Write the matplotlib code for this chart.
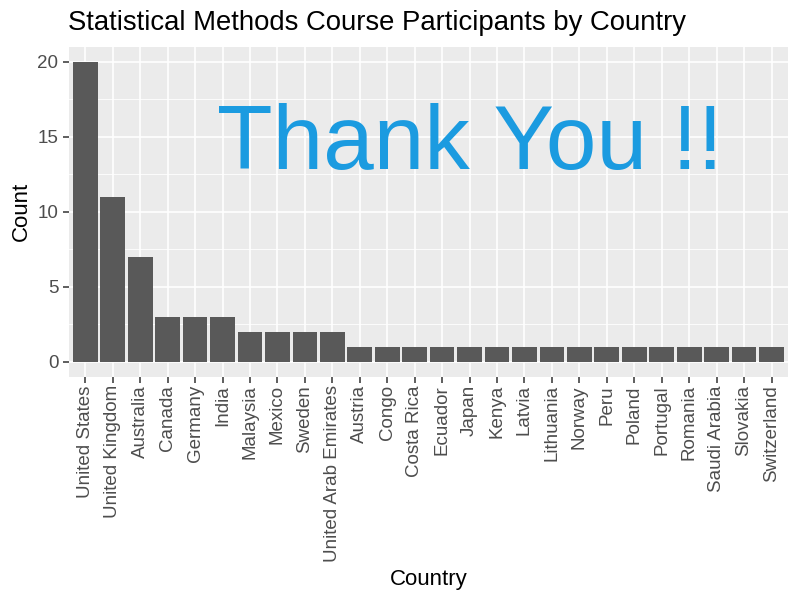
import matplotlib
matplotlib.use("Agg")
import matplotlib.pyplot as plt

plt.rcParams['font.family'] = ['Liberation Sans', 'DejaVu Sans']

# --- data ---
countries = ["United States", "United Kingdom", "Australia", "Canada", "Germany",
             "India", "Malaysia", "Mexico", "Sweden", "United Arab Emirates",
             "Austria", "Congo", "Costa Rica", "Ecuador", "Japan", "Kenya",
             "Latvia", "Lithuania", "Norway", "Peru", "Poland", "Portugal",
             "Romania", "Saudi Arabia", "Slovakia", "Switzerland"]
counts = [20, 11, 7, 3, 3, 3, 2, 2, 2, 2, 1, 1, 1, 1, 1, 1, 1, 1, 1, 1, 1, 1,
          1, 1, 1, 1]
yticks = [0, 5, 10, 15, 20]

fig = plt.figure(figsize=(8, 6), dpi=100)
ax = fig.add_axes([0.086, 0.372, 0.899, 0.55])

x = list(range(len(countries)))
ax.set_facecolor('#EBEBEB')
ax.set_axisbelow(True)

# minor grid
for v in [2.5, 7.5, 12.5, 17.5]:
    ax.axhline(v, color='white', lw=0.6, zorder=0)
# major grid
for v in yticks:
    ax.axhline(v, color='white', lw=1.2, zorder=0)
for xi in x:
    ax.axvline(xi, color='white', lw=1.2, zorder=0)

ax.bar(x, counts, width=0.9, color='#595959', zorder=2)

ax.set_xlim(-0.6, len(countries) - 0.4)
ax.set_ylim(-1, 21)
ax.set_yticks(yticks)
ax.set_xticks(x)
ax.set_xticklabels(countries, rotation=90, ha='center', va='top')

for s in ax.spines.values():
    s.set_visible(False)
ax.tick_params(axis='both', colors='#333333', length=4, width=1.1,
               labelcolor='#4D4D4D', labelsize=13.5)
ax.tick_params(axis='x', pad=2)

ax.set_xlabel("Country", fontsize=16, color='black', labelpad=5)
ax.set_ylabel("Count", fontsize=16, color='black', labelpad=4)
fig.text(0.085, 0.962, "Statistical Methods Course Participants by Country",
         fontsize=19.8, color='black', ha='left', va='center')

ax.text(14.0, 14.4, "Thank You !!", fontsize=65.5, color='#1B9BE0',
        ha='center', va='center', zorder=3)

fig.savefig("out.png", dpi=100)
